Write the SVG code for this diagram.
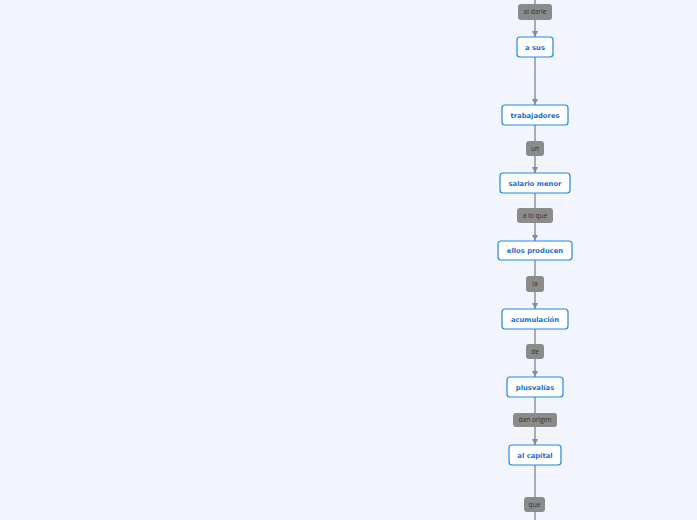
<svg xmlns="http://www.w3.org/2000/svg" width="697" height="520" viewBox="0 0 697 520">
<defs>
<marker id="arr" viewBox="0 0 10 10" refX="10" refY="5" markerWidth="6" markerHeight="6" markerUnits="userSpaceOnUse" orient="auto">
<path d="M0,0 L10,5 L0,10 z" fill="#8a8d94"/>
</marker>
<style>
.bg{fill:#f2f5fd}
.node rect{fill:#ffffff;stroke:#1e88e5;stroke-width:1.2}
.node text{font-family:"DejaVu Sans","Liberation Sans",sans-serif;font-size:6.8px;font-weight:bold;fill:#1a6fc9;text-anchor:middle}
.lbl rect{fill:#8b8b8b}
.lbl text{font-family:"Open Sans","Liberation Sans",sans-serif;font-size:6.6px;fill:#333333;text-anchor:middle}
.c{stroke:#8a8d94;stroke-width:1.4;fill:none}
</style>
</defs>
<rect class="bg" x="0" y="0" width="697" height="520"/>
<g id="connectors">
<path class="c" d="M535,0 V4"/>
<path class="c" d="M535,20 V37" marker-end="url(#arr)"/>
<path class="c" d="M535,57 V105" marker-end="url(#arr)"/>
<path class="c" d="M535,125 V141"/>
<path class="c" d="M535,156 V173" marker-end="url(#arr)"/>
<path class="c" d="M535,193 V208"/>
<path class="c" d="M535,223 V241" marker-end="url(#arr)"/>
<path class="c" d="M535,260 V276"/>
<path class="c" d="M535,292 V309" marker-end="url(#arr)"/>
<path class="c" d="M535,329 V344"/>
<path class="c" d="M535,359 V377" marker-end="url(#arr)"/>
<path class="c" d="M535,397 V413"/>
<path class="c" d="M535,427 V445" marker-end="url(#arr)"/>
<path class="c" d="M535,465 V497"/>
<path class="c" d="M535,512 V520"/>
</g>
<g id="lbl-al-darle" class="lbl"><rect x="518" y="4" width="34" height="16" rx="3"/><text x="535" y="14.3">al darle</text></g>
<g id="node-a-sus" class="node"><rect x="517" y="37" width="36" height="20" rx="3"/><text x="535" y="49.5">a sus</text></g>
<g id="node-trabajadores" class="node"><rect x="502" y="105" width="66" height="20" rx="3"/><text x="535" y="117.5">trabajadores</text></g>
<g id="lbl-un" class="lbl"><rect x="526" y="141" width="18" height="15" rx="3"/><text x="535" y="150.8">un</text></g>
<g id="node-salario-menor" class="node"><rect x="500" y="173" width="70" height="20" rx="3"/><text x="535" y="185.5">salario menor</text></g>
<g id="lbl-a-lo-que" class="lbl"><rect x="517" y="208" width="36" height="15" rx="3"/><text x="535" y="217.8">a lo que</text></g>
<g id="node-ellos-producen" class="node"><rect x="498" y="241" width="74" height="19" rx="3"/><text x="535" y="253">ellos producen</text></g>
<g id="lbl-la" class="lbl"><rect x="526" y="276" width="18" height="16" rx="3"/><text x="535" y="286.3">la</text></g>
<g id="node-acumulacion" class="node"><rect x="502" y="309" width="66" height="20" rx="3"/><text x="535" y="321.5">acumulación</text></g>
<g id="lbl-de" class="lbl"><rect x="526" y="344" width="18" height="15" rx="3"/><text x="535" y="353.8">de</text></g>
<g id="node-plusvalias" class="node"><rect x="507" y="377" width="56" height="20" rx="3"/><text x="535" y="389.5">plusvalías</text></g>
<g id="lbl-dan-origen" class="lbl"><rect x="513" y="413" width="44" height="14" rx="3"/><text x="535" y="422.3">dan origen</text></g>
<g id="node-al-capital" class="node"><rect x="509" y="445" width="52" height="20" rx="3"/><text x="535" y="457.5">al capital</text></g>
<g id="lbl-que" class="lbl"><rect x="524" y="497" width="21" height="15" rx="3"/><text x="534.5" y="506.8">que</text></g>
</svg>
